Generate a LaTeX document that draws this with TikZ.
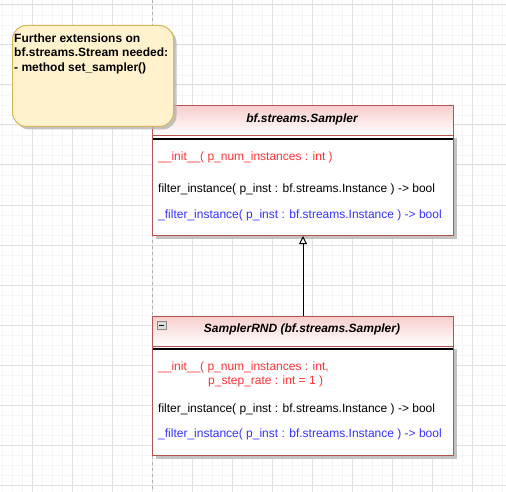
\documentclass[tikz,border=0pt]{standalone}
\usepackage{fontspec}
\setmainfont{Liberation Sans}
\usetikzlibrary{shadows,arrows.meta}
\definecolor{gridmajor}{HTML}{E2E2E2}
\definecolor{gridminor}{HTML}{F5F5F5}
\definecolor{pagebreak}{HTML}{B0B0B0}
\definecolor{notefill}{HTML}{FFF2CC}
\definecolor{notedraw}{HTML}{D6B656}
\definecolor{classdraw}{HTML}{B85450}
\definecolor{classtop}{HTML}{F8CECC}
\definecolor{redtxt}{HTML}{FF3333}
\definecolor{bluetxt}{HTML}{3333FF}
\definecolor{shadowc}{HTML}{B4B4B4}
\definecolor{iconfill}{HTML}{DCDCDC}
\definecolor{icondraw}{HTML}{8A8A8A}
\tikzset{
  boxshadow/.style={drop shadow={shadow xshift=3pt,shadow yshift=-3pt,fill=shadowc,opacity=0.8}},
  notebox/.style={draw=notedraw,fill=notefill,rounded corners=14pt,line width=1pt,boxshadow,
    minimum width=161pt,minimum height=101pt,anchor=north west,inner sep=0pt},
  classbody/.style={draw=classdraw,fill=white,line width=1pt,boxshadow,
    minimum width=301pt,anchor=north west,inner sep=0pt},
  classhead/.style={draw=classdraw,line width=1pt,top color=classtop,bottom color=white,
    minimum width=301pt,minimum height=30pt,anchor=north west,inner sep=0pt},
  titletxt/.style={font=\fontsize{12}{14}\selectfont\bfseries\itshape,inner sep=0pt},
  membertxt/.style={font=\fontsize{12}{14}\selectfont,inner sep=0pt,anchor=west,align=left},
  sepline/.style={line width=1.4pt,black},
  inherit/.style={-{Triangle[open,width=8pt,length=8pt]},line width=1pt,black},
}
\begin{document}
\begin{tikzpicture}[x=1pt,y=-1pt]
\useasboundingbox (0,0) rectangle (506,492);
% grid
\foreach \x in {2,12,...,502} \draw[gridminor,line width=0.8pt] (\x,0) -- (\x,492);
\foreach \y in {5,15,...,485} \draw[gridminor,line width=0.8pt] (0,\y) -- (506,\y);
\foreach \x in {32,72,...,472} \draw[gridmajor,line width=1pt] (\x,0) -- (\x,492);
\foreach \y in {5,45,...,485} \draw[gridmajor,line width=1pt] (0,\y) -- (506,\y);
% page break line
\draw[pagebreak,dash pattern=on 3pt off 3pt,line width=0.8pt] (152,0) -- (152,492);

% class 1
\node[classbody,minimum height=100pt] (s1b) at (152,135) {};
\node[classhead] (s1h) at (152,105) {};
\node[titletxt] (s1t) at (302,119.5) {bf.streams.Sampler};
\draw[sepline] (152.5,139) -- (452.5,139);
\node[membertxt,text=redtxt] (s1m1) at (158,157) {\_\_init\_\_( p\_num\_instances : int )};
\node[membertxt] (s1m2) at (158,189) {filter\_instance( p\_inst : bf.streams.Instance ) -> bool};
\node[membertxt,text=bluetxt] (s1m3) at (158,215) {\_filter\_instance( p\_inst : bf.streams.Instance ) -> bool};

% class 2
\node[classbody,minimum height=110pt] (s2b) at (152,345) {};
\node[classhead] (s2h) at (152,315.5) {};
\node[titletxt] (s2t) at (302,329) {SamplerRND (bf.streams.Sampler)};
\node[draw=icondraw,fill=iconfill,line width=0.8pt,minimum width=8.5pt,minimum height=8.5pt,inner sep=0pt,anchor=north west] (icon) at (157,320.5) {};
\draw[black,line width=1.2pt] ([xshift=2pt]icon.west) -- ([xshift=-2pt]icon.east);
\draw[sepline] (152.5,349) -- (452.5,349);
\node[membertxt,text=redtxt,font=\fontsize{12}{14}\selectfont] (s2m1) at (158,374) {\_\_init\_\_( p\_num\_instances : int,\\\hspace*{50pt}p\_step\_rate : int = 1 )};
\node[membertxt] (s2m2) at (158,409) {filter\_instance( p\_inst : bf.streams.Instance ) -> bool};
\node[membertxt,text=bluetxt] (s2m3) at (158,434.5) {\_filter\_instance( p\_inst : bf.streams.Instance ) -> bool};

% inheritance
\draw[inherit] (s2h.north) -- (s1b.south);

% note
\node[notebox] (note) at (12,25) {};
\node[font=\fontsize{12}{14.5}\selectfont\bfseries,align=left,anchor=north west,inner sep=0pt] (notetxt) at (14,33.5) {Further extensions on\\bf.streams.Stream needed:\\- method set\_sampler()};
\end{tikzpicture}
\end{document}
